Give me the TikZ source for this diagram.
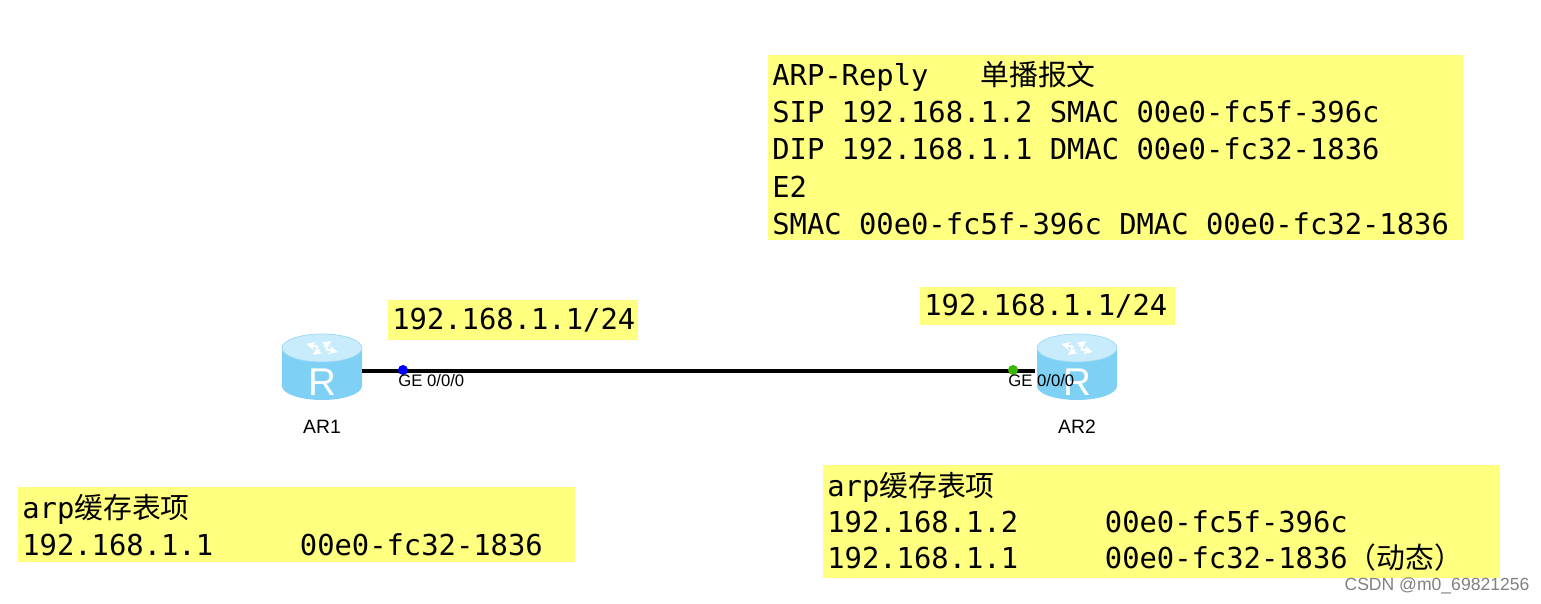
\documentclass[tikz,border=0pt]{standalone}
\usepackage{fontspec}
\setmonofont{DejaVu Sans Mono}
\setsansfont{Liberation Sans}
\newfontfamily\cjk{Noto Sans CJK SC}
\newcommand{\gapx}[1]{\phantom{#1}}
\definecolor{hl}{HTML}{FFFF80}
\definecolor{rtop}{HTML}{C8ECFC}
\definecolor{rbody}{HTML}{7FD0F5}
\begin{document}
\begin{tikzpicture}[x=0.02cm,y=-0.02cm,
  hbox/.style={fill=hl,anchor=north west,inner xsep=0.08cm,inner ysep=0.01cm,align=left,
    font=\ttfamily\fontsize{16.4}{21.2}\selectfont},
  port/.style={font=\sffamily\fontsize{9.5}{11}\selectfont,anchor=north west,inner sep=0},
  rlabel/.style={font=\sffamily\fontsize{11}{13}\selectfont}]
\useasboundingbox (0,0) rectangle (1541,604);
% boxes
\node[hbox,minimum width=695*0.02cm,minimum height=185*0.02cm,text width=695*0.02cm-0.16cm] (rep) at (768,55)
 {ARP-Reply\gapx{000}{\cjk 单播报文}\\SIP\gapx{0}192.168.1.2\gapx{0}SMAC\gapx{0}00e0-fc5f-396c\\DIP\gapx{0}192.168.1.1\gapx{0}DMAC\gapx{0}00e0-fc32-1836\\E2\\SMAC\gapx{0}00e0-fc5f-396c\gapx{0}DMAC\gapx{0}00e0-fc32-1836};
\node[hbox,minimum width=250*0.02cm,minimum height=40*0.02cm,text width=250*0.02cm-0.16cm] (ip1) at (388,300) {192.168.1.1/24};
\node[hbox,minimum width=255*0.02cm,minimum height=38*0.02cm,text width=255*0.02cm-0.16cm] (ip2) at (920,287) {192.168.1.1/24};
\node[hbox,minimum width=557*0.02cm,minimum height=75*0.02cm,text width=557*0.02cm-0.16cm] (c1) at (18,487)
 {arp{\cjk 缓存表项}\\192.168.1.1\gapx{00000}00e0-fc32-1836};
\node[hbox,minimum width=677*0.02cm,minimum height=113*0.02cm,text width=677*0.02cm-0.16cm,font=\ttfamily\fontsize{16.4}{20.3}\selectfont] (c2) at (823,465)
 {arp{\cjk 缓存表项}\\192.168.1.2\gapx{00000}00e0-fc5f-396c\\192.168.1.1\gapx{00000}00e0-fc32-1836{\cjk （动态）}};
% routers
\foreach \n/\cx in {ar1/322,ar2/1077}{
  \begin{scope}[shift={(\cx,368)}]
    \fill[rbody] (-40,-20) -- (-40,18) arc[start angle=180,end angle=0,x radius=40,y radius=14] -- (40,-20) -- cycle;
    \fill[rtop,draw=rbody!80!white] (0,-20) ellipse[x radius=40,y radius=14];
    \foreach \a in {30,120,210,300}{\draw[white,line width=1.2pt,->,>=stealth] (0,-20)++(\a:4 and 2) -- ++(\a:14 and 6);}
    \node[white,font=\sffamily\fontsize{22}{22}\selectfont] at (0,14) {R};
  \end{scope}
  \coordinate (\n) at (\cx,368);
}
\coordinate (l1) at (362,371);
\coordinate (l2) at (1035,371);
\draw[line width=2pt] (l1) -- (l2);
\fill[blue] (403,370) circle (5);
\fill[green!60!black!70!lime] (1013,370) circle (5);
\node[port] (p1) at (398,374) {GE 0/0/0};
\node[port] (p2) at (1008,374) {GE 0/0/0};
\node[rlabel] (n1) at (322,427) {AR1};
\node[rlabel] (n2) at (1077,427) {AR2};
\node[font=\sffamily\fontsize{10}{12}\selectfont,text=gray] (wm) at (1437,586) {CSDN @m0\_69821256};
\end{tikzpicture}
\end{document}
